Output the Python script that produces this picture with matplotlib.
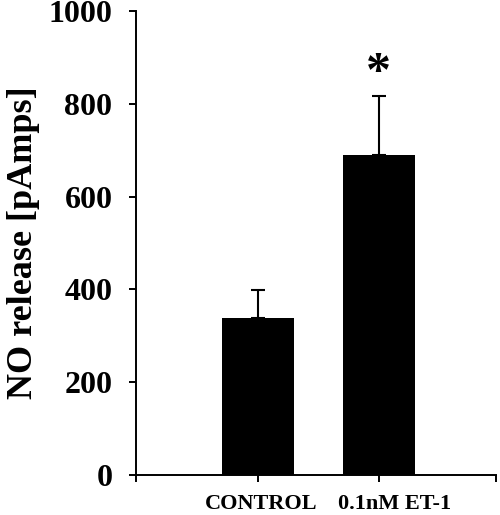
import matplotlib
matplotlib.use('Agg')
import matplotlib.pyplot as plt

groups = ['CONTROL', '0.1nM ET-1']
means = [339, 690]
errors = [59, 127]
yticks = [0, 200, 400, 600, 800, 1000]

plt.rcParams['font.family'] = ['Liberation Serif', 'DejaVu Serif']
plt.rcParams['font.weight'] = 'bold'

fig = plt.figure(figsize=(5, 5.15), dpi=100)
ax = fig.add_axes([0.272, 0.0777, 0.72, 0.901])

x = list(range(len(groups)))
ax.bar(x, means, width=0.6, color='black', zorder=2)
ax.errorbar(x, means, yerr=[[0, 0], errors], fmt='none', ecolor='black',
            elinewidth=1.5, capsize=5, capthick=1.5, zorder=1)

# significance marker
ax.text(1, means[1] + errors[1] - 2, '*', ha='center', va='bottom',
        fontsize=36, fontweight='bold')

ax.set_xlim(-1.01, 1.97)
ax.set_ylim(0, 1000)
ax.set_xticks([0, 1, 1.97])
ax.set_xticklabels(['', '', ''])
ax.set_yticks(yticks)
ax.set_yticklabels([str(v) for v in yticks], fontsize=23, fontweight='bold')
ax.set_ylabel('NO release [pAmps]', fontsize=26, fontweight='bold', labelpad=6)

# category labels, the second one sits a bit right of its tick in the original
shifts = [2, 11]
for i, name in enumerate(groups):
    ax.annotate(name, xy=(i, 0), xycoords=('data', 'axes fraction'),
                xytext=(shifts[i], -14), textcoords='offset points',
                ha='center', va='top', fontsize=16, fontweight='bold',
                annotation_clip=False)

for side in ['top', 'right']:
    ax.spines[side].set_visible(False)
ax.spines['left'].set_bounds(-14, 1000)
ax.spines['left'].set_linewidth(1.4)
ax.spines['bottom'].set_linewidth(1.4)
ax.tick_params(axis='both', direction='out', length=5, width=1.4)
ax.tick_params(axis='y', pad=12)

plt.savefig('out.png', dpi=100)
plt.close()
